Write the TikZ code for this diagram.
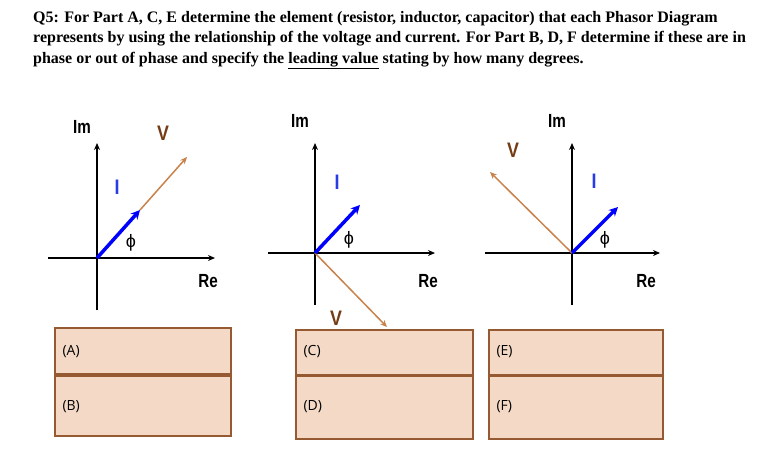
\documentclass[tikz,border=0pt]{standalone}
\usepackage{fontspec}
\setmainfont{Liberation Serif}
\newfontfamily\axf{Liberation Sans}
\newfontfamily\boxf{Open Sans}
\usetikzlibrary{arrows.meta}
\definecolor{vline}{RGB}{200,130,75}
\definecolor{vlab}{RGB}{115,60,20}
\definecolor{boxfill}{RGB}{244,218,198}
\definecolor{boxline}{RGB}{150,90,50}
\definecolor{ilab}{RGB}{40,60,230}
\begin{document}
\begin{tikzpicture}[x=1pt,y=-1pt,
 axis/.style={line width=1.6pt,-{Stealth[length=7pt,width=6pt]}},
 iarr/.style={blue,line width=3.5pt,-{Stealth[length=9pt,width=9pt]}},
 varr/.style={vline,line width=1.5pt,-{Stealth[length=7pt,width=6pt]}},
 axl/.style={font=\axf\bfseries\fontsize{19}{19}\selectfont,xscale=0.8},
 ilb/.style={font=\axf\bfseries\fontsize{21}{21}\selectfont,text=ilab,xscale=0.85},
 vlb/.style={font=\axf\bfseries\fontsize{21}{21}\selectfont,text=vlab,xscale=0.85},
 phl/.style={font=\axf\fontsize{18}{18}\selectfont},
 ansbox/.style={draw=boxline,fill=boxfill,line width=1.5pt,anchor=north west,inner sep=0pt},
 boxl/.style={font=\boxf\fontsize{14}{14}\selectfont,anchor=west}]
\useasboundingbox (0,0) rectangle (757,453);
\node[anchor=north west,align=left,inner sep=0pt,font=\bfseries\fontsize{16}{20.5}\selectfont] (q) at (33,11)
{Q5: For Part A, C, E determine the element (resistor, inductor, capacitor) that each Phasor Diagram\\
represents by using the relationship of the voltage and current. For Part B, D, F determine if these are in\\
phase or out of phase and specify the \underline{leading value} stating by how many degrees.};
% Diagram A
\coordinate (oA) at (97,258);
\coordinate (imA) at (97,143); \coordinate (rlA) at (97,310);
\coordinate (xlA) at (48,258); \coordinate (reA) at (215,258);
\coordinate (iA) at (140,210); \coordinate (vA) at (187,157);
\draw[line width=1.6pt] (rlA) -- (oA); \draw[axis] (oA) -- (imA);
\draw[line width=1.6pt] (xlA) -- (oA); \draw[axis] (oA) -- (reA);
\draw[varr] (iA) -- (vA);
\draw[iarr] (oA) -- (iA);
\node[axl] (ImA) at (82,127) {Im};
\node[axl] (ReA) at (208,281) {Re};
\node[vlb] (VA) at (163,133) {V};
\node[ilb] (IA) at (117,187) {I};
\node[phl] (pA) at (131,243) {ϕ};
% Diagram C
\coordinate (oC) at (315,253);
\coordinate (imC) at (315,143); \coordinate (rlC) at (315,305);
\coordinate (xlC) at (268,253); \coordinate (reC) at (435,253);
\coordinate (iC) at (360,205); \coordinate (vC) at (387,327);
\draw[line width=1.6pt] (rlC) -- (oC); \draw[axis] (oC) -- (imC);
\draw[line width=1.6pt] (xlC) -- (oC); \draw[axis] (oC) -- (reC);
\draw[varr] (oC) -- (vC);
\draw[iarr] (oC) -- (iC);
\node[axl] (ImC) at (300,121) {Im};
\node[axl] (ReC) at (428,281) {Re};
\node[vlb] (VC) at (336,318) {V};
\node[ilb] (IC) at (337,182) {I};
\node[phl] (pC) at (349,240) {ϕ};
% Diagram E
\coordinate (oE) at (572,253);
\coordinate (imE) at (572,143); \coordinate (rlE) at (572,305);
\coordinate (xlE) at (485,253); \coordinate (reE) at (660,253);
\coordinate (iE) at (618,207); \coordinate (vE) at (490,172);
\draw[line width=1.6pt] (rlE) -- (oE); \draw[axis] (oE) -- (imE);
\draw[line width=1.6pt] (xlE) -- (oE); \draw[axis] (oE) -- (reE);
\draw[varr] (oE) -- (vE);
\draw[iarr] (oE) -- (iE);
\node[axl] (ImE) at (557,121) {Im};
\node[axl] (ReE) at (646,281) {Re};
\node[vlb] (VE) at (513,150) {V};
\node[ilb] (IE) at (594,181) {I};
\node[phl] (pE) at (605,240) {ϕ};
% Boxes
\node[ansbox,minimum width=176pt,minimum height=46pt] (bA) at (54,327) {};
\node[ansbox,minimum width=176pt,minimum height=60pt] (bB) at (54,375) {};
\node[ansbox,minimum width=177pt,minimum height=45pt] (bC) at (295,329) {};
\node[ansbox,minimum width=177pt,minimum height=63pt] (bD) at (295,375) {};
\node[ansbox,minimum width=174pt,minimum height=45pt] (bE) at (488,329) {};
\node[ansbox,minimum width=174pt,minimum height=63pt] (bF) at (488,375) {};
\node[boxl] (lA) at (59,352) {(A)};
\node[boxl] (lB) at (59,407) {(B)};
\node[boxl] (lC) at (300,352) {(C)};
\node[boxl] (lD) at (300,407) {(D)};
\node[boxl] (lE) at (493,352) {(E)};
\node[boxl] (lF) at (493,407) {(F)};
\end{tikzpicture}
\end{document}
